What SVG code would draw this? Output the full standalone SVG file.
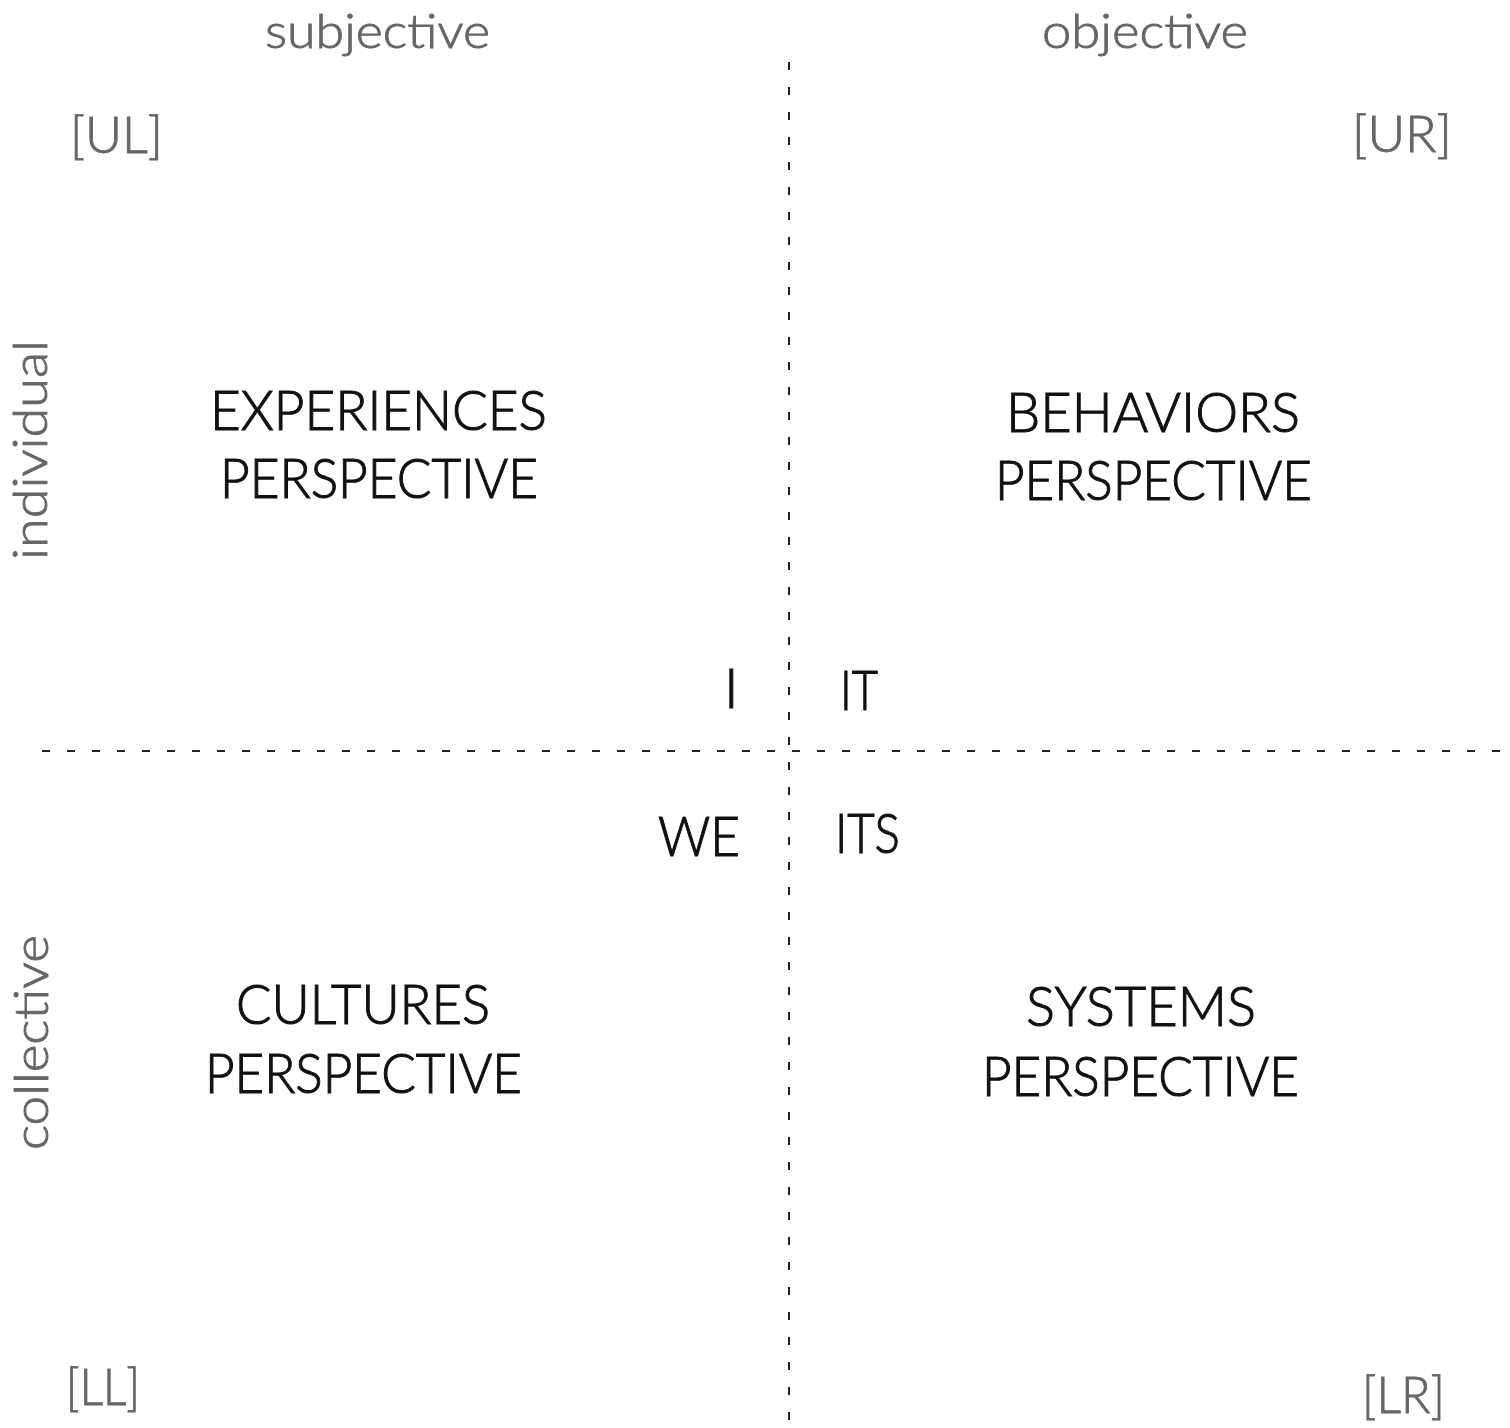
<svg xmlns="http://www.w3.org/2000/svg" width="1510" height="1428" viewBox="0 0 1510 1428">
<style>
.main{font-family:Lato,"Liberation Sans",sans-serif;font-size:56px;fill:#111;stroke:#111;stroke-width:1.1px;font-weight:300}
.side{font-family:Lato,"Liberation Sans",sans-serif;font-size:52px;fill:#666;stroke:#666;stroke-width:0.9px;font-weight:300}
.edge{font-size:48px}
.axis{stroke:#222;stroke-width:2;stroke-dasharray:8 17;fill:none}
</style>
<rect width="1510" height="1428" fill="#fff"/>
<g id="connectors">
<line class="axis" x1="789" y1="62" x2="789" y2="1428"/>
<line class="axis" x1="42" y1="751" x2="1510" y2="751"/>
</g>
<g id="axis-labels">
<text class="side edge" x="265" y="48" textLength="225" lengthAdjust="spacingAndGlyphs">subjective</text>
<text class="side edge" x="1042" y="48" textLength="206" lengthAdjust="spacingAndGlyphs">objective</text>
<text class="side edge" transform="translate(47,560) rotate(-90)" textLength="220" lengthAdjust="spacingAndGlyphs">individual</text>
<text class="side edge" transform="translate(48,1150) rotate(-90)" textLength="215" lengthAdjust="spacingAndGlyphs">collective</text>
</g>
<g id="corner-labels">
<text class="side" x="70" y="153" textLength="93" lengthAdjust="spacingAndGlyphs">[UL]</text>
<text class="side" x="1352" y="152" textLength="100" lengthAdjust="spacingAndGlyphs">[UR]</text>
<text class="side" x="66" y="1405" textLength="74" lengthAdjust="spacingAndGlyphs">[LL]</text>
<text class="side" x="1362" y="1413" textLength="83" lengthAdjust="spacingAndGlyphs">[LR]</text>
</g>
<g id="node-ul">
<text class="main" x="210" y="430" textLength="337" lengthAdjust="spacingAndGlyphs">EXPERIENCES</text>
<text class="main" x="220" y="498" textLength="318" lengthAdjust="spacingAndGlyphs">PERSPECTIVE</text>
</g>
<g id="node-ur">
<text class="main" x="1006" y="432" textLength="294" lengthAdjust="spacingAndGlyphs">BEHAVIORS</text>
<text class="main" x="995" y="500" textLength="317" lengthAdjust="spacingAndGlyphs">PERSPECTIVE</text>
</g>
<g id="node-ll">
<text class="main" x="236" y="1024" textLength="254" lengthAdjust="spacingAndGlyphs">CULTURES</text>
<text class="main" x="205" y="1093" textLength="317" lengthAdjust="spacingAndGlyphs">PERSPECTIVE</text>
</g>
<g id="node-lr">
<text class="main" x="1026" y="1026" textLength="230" lengthAdjust="spacingAndGlyphs">SYSTEMS</text>
<text class="main" x="982" y="1096" textLength="317" lengthAdjust="spacingAndGlyphs">PERSPECTIVE</text>
</g>
<g id="quadrant-pronouns">
<text class="main" x="724" y="708">I</text>
<text class="main" x="840" y="710" textLength="38" lengthAdjust="spacingAndGlyphs">IT</text>
<text class="main" x="658" y="856" textLength="82" lengthAdjust="spacingAndGlyphs">WE</text>
<text class="main" x="835" y="853" textLength="65" lengthAdjust="spacingAndGlyphs">ITS</text>
</g>
</svg>
